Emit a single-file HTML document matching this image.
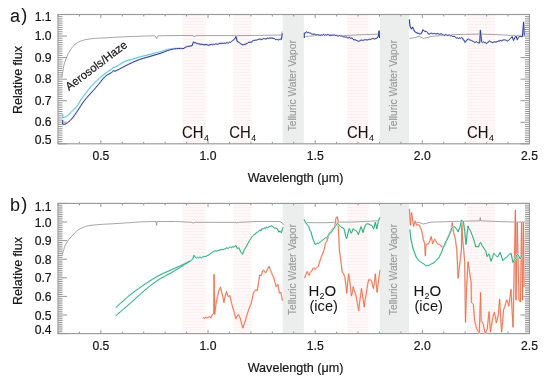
<!DOCTYPE html><html><head><meta charset="utf-8"><style>
html,body{margin:0;padding:0;background:#fff;width:550px;height:381px;overflow:hidden}
svg{display:block;will-change:transform}
text{font-family:"Liberation Sans",sans-serif;fill:#161616;stroke:#161616;stroke-width:0.2}
</style></head><body>
<svg width="550" height="381" viewBox="0 0 550 381">
<defs><pattern id="pink" width="4" height="3" patternUnits="userSpaceOnUse"><rect width="4" height="3" fill="#fff8f8"/><rect width="4" height="1" fill="#fdf0f0"/></pattern></defs>

<rect x="182.5" y="14.5" width="23.0" height="129.3" fill="url(#pink)"/><rect x="233.5" y="14.5" width="18.0" height="129.3" fill="url(#pink)"/><rect x="347.2" y="14.5" width="21.30000000000001" height="129.3" fill="url(#pink)"/><rect x="467.2" y="14.5" width="28.100000000000023" height="129.3" fill="url(#pink)"/><rect x="282.7" y="14.5" width="21.100000000000023" height="129.3" fill="#eceeed"/><rect x="379.8" y="14.5" width="29.19999999999999" height="129.3" fill="#eceeed"/>
<path d="M58.0 143.80h9M529.5 143.80h-9M58.0 141.65h4.5M529.5 141.65h-4.5M58.0 139.49h4.5M529.5 139.49h-4.5M58.0 137.34h4.5M529.5 137.34h-4.5M58.0 135.18h4.5M529.5 135.18h-4.5M58.0 133.03h4.5M529.5 133.03h-4.5M58.0 130.87h4.5M529.5 130.87h-4.5M58.0 128.72h4.5M529.5 128.72h-4.5M58.0 126.56h4.5M529.5 126.56h-4.5M58.0 124.41h4.5M529.5 124.41h-4.5M58.0 122.25h9M529.5 122.25h-9M58.0 120.10h4.5M529.5 120.10h-4.5M58.0 117.94h4.5M529.5 117.94h-4.5M58.0 115.79h4.5M529.5 115.79h-4.5M58.0 113.63h4.5M529.5 113.63h-4.5M58.0 111.48h4.5M529.5 111.48h-4.5M58.0 109.32h4.5M529.5 109.32h-4.5M58.0 107.17h4.5M529.5 107.17h-4.5M58.0 105.01h4.5M529.5 105.01h-4.5M58.0 102.86h4.5M529.5 102.86h-4.5M58.0 100.70h9M529.5 100.70h-9M58.0 98.55h4.5M529.5 98.55h-4.5M58.0 96.39h4.5M529.5 96.39h-4.5M58.0 94.24h4.5M529.5 94.24h-4.5M58.0 92.08h4.5M529.5 92.08h-4.5M58.0 89.93h4.5M529.5 89.93h-4.5M58.0 87.77h4.5M529.5 87.77h-4.5M58.0 85.62h4.5M529.5 85.62h-4.5M58.0 83.46h4.5M529.5 83.46h-4.5M58.0 81.31h4.5M529.5 81.31h-4.5M58.0 79.15h9M529.5 79.15h-9M58.0 77.00h4.5M529.5 77.00h-4.5M58.0 74.84h4.5M529.5 74.84h-4.5M58.0 72.69h4.5M529.5 72.69h-4.5M58.0 70.53h4.5M529.5 70.53h-4.5M58.0 68.38h4.5M529.5 68.38h-4.5M58.0 66.22h4.5M529.5 66.22h-4.5M58.0 64.07h4.5M529.5 64.07h-4.5M58.0 61.91h4.5M529.5 61.91h-4.5M58.0 59.76h4.5M529.5 59.76h-4.5M58.0 57.60h9M529.5 57.60h-9M58.0 55.45h4.5M529.5 55.45h-4.5M58.0 53.29h4.5M529.5 53.29h-4.5M58.0 51.14h4.5M529.5 51.14h-4.5M58.0 48.98h4.5M529.5 48.98h-4.5M58.0 46.83h4.5M529.5 46.83h-4.5M58.0 44.67h4.5M529.5 44.67h-4.5M58.0 42.52h4.5M529.5 42.52h-4.5M58.0 40.36h4.5M529.5 40.36h-4.5M58.0 38.21h4.5M529.5 38.21h-4.5M58.0 36.05h9M529.5 36.05h-9M58.0 33.90h4.5M529.5 33.90h-4.5M58.0 31.74h4.5M529.5 31.74h-4.5M58.0 29.59h4.5M529.5 29.59h-4.5M58.0 27.43h4.5M529.5 27.43h-4.5M58.0 25.28h4.5M529.5 25.28h-4.5M58.0 23.12h4.5M529.5 23.12h-4.5M58.0 20.97h4.5M529.5 20.97h-4.5M58.0 18.81h4.5M529.5 18.81h-4.5M58.0 16.66h4.5M529.5 16.66h-4.5M58.0 14.50h9M529.5 14.50h-9M58.00 143.8v-2M58.00 14.5v2M79.43 143.8v-2M79.43 14.5v2M100.86 143.8v-3.5M100.86 14.5v3.5M122.30 143.8v-2M122.30 14.5v2M143.73 143.8v-2M143.73 14.5v2M165.16 143.8v-2M165.16 14.5v2M186.59 143.8v-2M186.59 14.5v2M208.02 143.8v-3.5M208.02 14.5v3.5M229.45 143.8v-2M229.45 14.5v2M250.89 143.8v-2M250.89 14.5v2M272.32 143.8v-2M272.32 14.5v2M293.75 143.8v-2M293.75 14.5v2M315.18 143.8v-3.5M315.18 14.5v3.5M336.61 143.8v-2M336.61 14.5v2M358.05 143.8v-2M358.05 14.5v2M379.48 143.8v-2M379.48 14.5v2M400.91 143.8v-2M400.91 14.5v2M422.34 143.8v-3.5M422.34 14.5v3.5M443.77 143.8v-2M443.77 14.5v2M465.20 143.8v-2M465.20 14.5v2M486.64 143.8v-2M486.64 14.5v2M508.07 143.8v-2M508.07 14.5v2M529.50 143.8v-3.5M529.50 14.5v3.5" stroke="#7a7a7a" stroke-width="0.8" fill="none"/><rect x="58.0" y="14.5" width="471.5" height="129.3" fill="none" stroke="#9a9a9a" stroke-width="1.15"/>
<rect x="182.5" y="203.4" width="23.0" height="130.20000000000002" fill="url(#pink)"/><rect x="233.5" y="203.4" width="18.0" height="130.20000000000002" fill="url(#pink)"/><rect x="347.2" y="203.4" width="21.30000000000001" height="130.20000000000002" fill="url(#pink)"/><rect x="467.2" y="203.4" width="28.100000000000023" height="130.20000000000002" fill="url(#pink)"/><rect x="282.7" y="203.4" width="21.100000000000023" height="130.20000000000002" fill="#eceeed"/><rect x="379.8" y="203.4" width="29.19999999999999" height="130.20000000000002" fill="#eceeed"/>
<path d="M58.0 333.60h9M529.5 333.60h-9M58.0 331.74h4.5M529.5 331.74h-4.5M58.0 329.88h4.5M529.5 329.88h-4.5M58.0 328.02h4.5M529.5 328.02h-4.5M58.0 326.16h4.5M529.5 326.16h-4.5M58.0 324.30h4.5M529.5 324.30h-4.5M58.0 322.44h4.5M529.5 322.44h-4.5M58.0 320.58h4.5M529.5 320.58h-4.5M58.0 318.72h4.5M529.5 318.72h-4.5M58.0 316.86h4.5M529.5 316.86h-4.5M58.0 315.00h9M529.5 315.00h-9M58.0 313.14h4.5M529.5 313.14h-4.5M58.0 311.28h4.5M529.5 311.28h-4.5M58.0 309.42h4.5M529.5 309.42h-4.5M58.0 307.56h4.5M529.5 307.56h-4.5M58.0 305.70h4.5M529.5 305.70h-4.5M58.0 303.84h4.5M529.5 303.84h-4.5M58.0 301.98h4.5M529.5 301.98h-4.5M58.0 300.12h4.5M529.5 300.12h-4.5M58.0 298.26h4.5M529.5 298.26h-4.5M58.0 296.40h9M529.5 296.40h-9M58.0 294.54h4.5M529.5 294.54h-4.5M58.0 292.68h4.5M529.5 292.68h-4.5M58.0 290.82h4.5M529.5 290.82h-4.5M58.0 288.96h4.5M529.5 288.96h-4.5M58.0 287.10h4.5M529.5 287.10h-4.5M58.0 285.24h4.5M529.5 285.24h-4.5M58.0 283.38h4.5M529.5 283.38h-4.5M58.0 281.52h4.5M529.5 281.52h-4.5M58.0 279.66h4.5M529.5 279.66h-4.5M58.0 277.80h9M529.5 277.80h-9M58.0 275.94h4.5M529.5 275.94h-4.5M58.0 274.08h4.5M529.5 274.08h-4.5M58.0 272.22h4.5M529.5 272.22h-4.5M58.0 270.36h4.5M529.5 270.36h-4.5M58.0 268.50h4.5M529.5 268.50h-4.5M58.0 266.64h4.5M529.5 266.64h-4.5M58.0 264.78h4.5M529.5 264.78h-4.5M58.0 262.92h4.5M529.5 262.92h-4.5M58.0 261.06h4.5M529.5 261.06h-4.5M58.0 259.20h9M529.5 259.20h-9M58.0 257.34h4.5M529.5 257.34h-4.5M58.0 255.48h4.5M529.5 255.48h-4.5M58.0 253.62h4.5M529.5 253.62h-4.5M58.0 251.76h4.5M529.5 251.76h-4.5M58.0 249.90h4.5M529.5 249.90h-4.5M58.0 248.04h4.5M529.5 248.04h-4.5M58.0 246.18h4.5M529.5 246.18h-4.5M58.0 244.32h4.5M529.5 244.32h-4.5M58.0 242.46h4.5M529.5 242.46h-4.5M58.0 240.60h9M529.5 240.60h-9M58.0 238.74h4.5M529.5 238.74h-4.5M58.0 236.88h4.5M529.5 236.88h-4.5M58.0 235.02h4.5M529.5 235.02h-4.5M58.0 233.16h4.5M529.5 233.16h-4.5M58.0 231.30h4.5M529.5 231.30h-4.5M58.0 229.44h4.5M529.5 229.44h-4.5M58.0 227.58h4.5M529.5 227.58h-4.5M58.0 225.72h4.5M529.5 225.72h-4.5M58.0 223.86h4.5M529.5 223.86h-4.5M58.0 222.00h9M529.5 222.00h-9M58.0 220.14h4.5M529.5 220.14h-4.5M58.0 218.28h4.5M529.5 218.28h-4.5M58.0 216.42h4.5M529.5 216.42h-4.5M58.0 214.56h4.5M529.5 214.56h-4.5M58.0 212.70h4.5M529.5 212.70h-4.5M58.0 210.84h4.5M529.5 210.84h-4.5M58.0 208.98h4.5M529.5 208.98h-4.5M58.0 207.12h4.5M529.5 207.12h-4.5M58.0 205.26h4.5M529.5 205.26h-4.5M58.0 203.40h9M529.5 203.40h-9M58.00 333.6v-2M58.00 203.4v2M79.43 333.6v-2M79.43 203.4v2M100.86 333.6v-3.5M100.86 203.4v3.5M122.30 333.6v-2M122.30 203.4v2M143.73 333.6v-2M143.73 203.4v2M165.16 333.6v-2M165.16 203.4v2M186.59 333.6v-2M186.59 203.4v2M208.02 333.6v-3.5M208.02 203.4v3.5M229.45 333.6v-2M229.45 203.4v2M250.89 333.6v-2M250.89 203.4v2M272.32 333.6v-2M272.32 203.4v2M293.75 333.6v-2M293.75 203.4v2M315.18 333.6v-3.5M315.18 203.4v3.5M336.61 333.6v-2M336.61 203.4v2M358.05 333.6v-2M358.05 203.4v2M379.48 333.6v-2M379.48 203.4v2M400.91 333.6v-2M400.91 203.4v2M422.34 333.6v-3.5M422.34 203.4v3.5M443.77 333.6v-2M443.77 203.4v2M465.20 333.6v-2M465.20 203.4v2M486.64 333.6v-2M486.64 203.4v2M508.07 333.6v-2M508.07 203.4v2M529.50 333.6v-3.5M529.50 203.4v3.5" stroke="#7a7a7a" stroke-width="0.8" fill="none"/><rect x="58.0" y="203.4" width="471.5" height="130.20000000000002" fill="none" stroke="#9a9a9a" stroke-width="1.15"/>
<text x="51.6" y="21.2" text-anchor="end" font-size="12.2">1.1</text><text x="51.6" y="40.2" text-anchor="end" font-size="12.2">1.0</text><text x="51.6" y="61.7" text-anchor="end" font-size="12.2">0.9</text><text x="51.6" y="83.3" text-anchor="end" font-size="12.2">0.8</text><text x="51.6" y="104.8" text-anchor="end" font-size="12.2">0.7</text><text x="51.6" y="126.4" text-anchor="end" font-size="12.2">0.6</text><text x="51.6" y="143.9" text-anchor="end" font-size="12.2">0.5</text><text x="51.6" y="211.3" text-anchor="end" font-size="12.2">1.1</text><text x="51.6" y="226.6" text-anchor="end" font-size="12.2">1.0</text><text x="51.6" y="245.2" text-anchor="end" font-size="12.2">0.9</text><text x="51.6" y="263.8" text-anchor="end" font-size="12.2">0.8</text><text x="51.6" y="282.4" text-anchor="end" font-size="12.2">0.7</text><text x="51.6" y="301.0" text-anchor="end" font-size="12.2">0.6</text><text x="51.6" y="319.6" text-anchor="end" font-size="12.2">0.5</text><text x="51.6" y="333.7" text-anchor="end" font-size="12.2">0.4</text><text x="100.9" y="160" text-anchor="middle" font-size="12.2">0.5</text><text x="100.9" y="349.5" text-anchor="middle" font-size="12.2">0.5</text><text x="208.0" y="160" text-anchor="middle" font-size="12.2">1.0</text><text x="208.0" y="349.5" text-anchor="middle" font-size="12.2">1.0</text><text x="315.2" y="160" text-anchor="middle" font-size="12.2">1.5</text><text x="315.2" y="349.5" text-anchor="middle" font-size="12.2">1.5</text><text x="422.3" y="160" text-anchor="middle" font-size="12.2">2.0</text><text x="422.3" y="349.5" text-anchor="middle" font-size="12.2">2.0</text><text x="529.5" y="160" text-anchor="middle" font-size="12.2">2.5</text><text x="529.5" y="349.5" text-anchor="middle" font-size="12.2">2.5</text>
<text x="295.5" y="182" text-anchor="middle" font-size="12.6">Wavelength (μm)</text>
<text x="295.5" y="371.8" text-anchor="middle" font-size="12.6">Wavelength (μm)</text>
<text transform="translate(22,80) rotate(-90)" text-anchor="middle" font-size="12.5">Relative flux</text>
<text transform="translate(22,271) rotate(-90)" text-anchor="middle" font-size="12.5">Relative flux</text>
<text x="10" y="22" font-size="18" style="stroke-width:0.05">a<tspan dx="1.3" dy="-0.8">)</tspan></text>
<text x="10" y="211" font-size="18" style="stroke-width:0.05">b<tspan dx="1.3" dy="-0.8">)</tspan></text>
<text transform="translate(296.3,85.7) rotate(-90)" text-anchor="middle" font-size="10.25" style="fill:#9a9a9a;stroke:#9a9a9a;stroke-width:0.15">Telluric Water Vapor</text>
<text transform="translate(396.6,85.7) rotate(-90)" text-anchor="middle" font-size="10.25" style="fill:#9a9a9a;stroke:#9a9a9a;stroke-width:0.15">Telluric Water Vapor</text>
<text transform="translate(296.3,269.6) rotate(-90)" text-anchor="middle" font-size="10.25" style="fill:#9a9a9a;stroke:#9a9a9a;stroke-width:0.15">Telluric Water Vapor</text>
<text transform="translate(396.6,269.6) rotate(-90)" text-anchor="middle" font-size="10.25" style="fill:#9a9a9a;stroke:#9a9a9a;stroke-width:0.15">Telluric Water Vapor</text>
<text transform="translate(182.0,138.4) scale(0.99,1.05)" font-size="15" style="stroke-width:0.08">CH<tspan font-size="8.8" dy="2.6" dx="0.6">4</tspan></text>
<text transform="translate(229.2,138.4) scale(0.99,1.05)" font-size="15" style="stroke-width:0.08">CH<tspan font-size="8.8" dy="2.6" dx="0.6">4</tspan></text>
<text transform="translate(347.0,138.4) scale(0.99,1.05)" font-size="15" style="stroke-width:0.08">CH<tspan font-size="8.8" dy="2.6" dx="0.6">4</tspan></text>
<text transform="translate(467.0,138.4) scale(0.99,1.05)" font-size="15" style="stroke-width:0.08">CH<tspan font-size="8.8" dy="2.6" dx="0.6">4</tspan></text>
<text transform="translate(69.0,90.9) rotate(-37) " font-size="11.4">Aerosols/Haze</text>
<text x="308.6" y="296.2" font-size="15" style="stroke-width:0.05">H<tspan font-size="9" dy="2.6">2</tspan><tspan dy="-2.6">O</tspan></text>
<text x="309.5" y="311.3" font-size="14.6" style="stroke-width:0.05">(ice)</text>
<text x="413.6" y="296.2" font-size="15" style="stroke-width:0.05">H<tspan font-size="9" dy="2.6">2</tspan><tspan dy="-2.6">O</tspan></text>
<text x="414.5" y="311.3" font-size="14.6" style="stroke-width:0.05">(ice)</text>
<path d="M62.00,77.00C62.32,75.07 63.15,68.63 63.90,65.40C64.65,62.17 65.42,60.22 66.50,57.60C67.58,54.98 68.87,52.00 70.40,49.70C71.93,47.40 73.73,45.33 75.70,43.80C77.67,42.27 79.80,41.32 82.20,40.50C84.60,39.68 87.25,39.30 90.10,38.90C92.95,38.50 96.65,38.27 99.30,38.10C101.95,37.93 102.55,38.08 106.00,37.90C109.45,37.72 114.33,37.28 120.00,37.00C125.67,36.72 134.17,36.40 140.00,36.20C145.83,36.00 152.50,35.87 155.00,35.80M155.0,35.8 156.7,38.6 158.0,35.8 180.0,35.5 193.0,35.5 194.0,37.0 196.0,35.6 236.0,35.6 260.0,35.4 281.7,35.0 282.0,31.5M304.0,36.8 315.5,35.5 330.9,35.1 346.4,35.5 361.8,34.7 377.3,34.2 379.5,34.0M409.4,38.5 415.9,37.4 419.2,36.3 423.5,38.5 432.3,36.3 443.2,35.5 454.1,34.6 465.0,34.4 480.0,34.1 480.4,29.6 480.8,34.1 498.2,34.7 510.9,35.4 521.1,35.4 524.0,35.4" stroke="#8e8e8e" stroke-width="0.8" fill="none" stroke-linejoin="round" stroke-opacity="1"/>
<path d="M62.7,113.8 62.7,117.7M62.70,117.70C63.28,117.50 64.70,117.48 66.20,116.50C67.70,115.52 69.73,113.77 71.70,111.80C73.67,109.83 76.42,106.77 78.00,104.70C79.58,102.63 79.03,102.42 81.20,99.40C83.37,96.38 87.62,90.43 91.00,86.60C94.38,82.77 98.33,79.13 101.50,76.40C104.67,73.67 108.17,71.52 110.00,70.20C111.83,68.88 112.08,68.78 112.50,68.50M112.5,68.5 113.6,67.0 115.0,67.5M115.00,67.50C116.67,66.48 122.12,62.78 125.00,61.40C127.88,60.02 129.88,59.93 132.30,59.20C134.72,58.47 137.08,57.67 139.50,57.00C141.92,56.33 144.37,55.80 146.80,55.20C149.23,54.60 151.67,54.02 154.10,53.40C156.53,52.78 159.20,52.15 161.40,51.50C163.60,50.85 165.12,50.00 167.30,49.50C169.48,49.00 172.08,48.72 174.50,48.50C176.92,48.28 180.58,48.25 181.80,48.20" stroke="#cdf1f8" stroke-width="2.0" fill="none" stroke-linejoin="round" stroke-opacity="1"/>
<path d="M62.7,113.8 62.7,117.7M62.70,117.70C63.28,117.50 64.70,117.48 66.20,116.50C67.70,115.52 69.73,113.77 71.70,111.80C73.67,109.83 76.42,106.77 78.00,104.70C79.58,102.63 79.03,102.42 81.20,99.40C83.37,96.38 87.62,90.43 91.00,86.60C94.38,82.77 98.33,79.13 101.50,76.40C104.67,73.67 108.17,71.52 110.00,70.20C111.83,68.88 112.08,68.78 112.50,68.50M112.5,68.5 113.6,67.0 115.0,67.5M115.00,67.50C116.67,66.48 122.12,62.78 125.00,61.40C127.88,60.02 129.88,59.93 132.30,59.20C134.72,58.47 137.08,57.67 139.50,57.00C141.92,56.33 144.37,55.80 146.80,55.20C149.23,54.60 151.67,54.02 154.10,53.40C156.53,52.78 159.20,52.15 161.40,51.50C163.60,50.85 165.12,50.00 167.30,49.50C169.48,49.00 172.08,48.72 174.50,48.50C176.92,48.28 180.58,48.25 181.80,48.20" stroke="#3fb2c9" stroke-width="0.75" fill="none" stroke-linejoin="round" stroke-opacity="1"/>
<path d="M62.7,120.0 62.7,124.4M62.70,124.40C63.28,124.27 64.70,124.52 66.20,123.60C67.70,122.68 69.73,121.15 71.70,118.90C73.67,116.65 75.85,113.20 78.00,110.10C80.15,107.00 81.57,104.12 84.60,100.30C87.63,96.48 92.87,91.08 96.20,87.20C99.53,83.32 102.30,79.28 104.60,77.00C106.90,74.72 108.68,74.37 110.00,73.50C111.32,72.63 112.08,72.08 112.50,71.80M112.5,71.8 113.6,70.5 115.0,71.3M115.00,71.30C116.67,70.43 122.12,67.57 125.00,66.10C127.88,64.63 129.88,63.60 132.30,62.50C134.72,61.40 137.08,60.35 139.50,59.50C141.92,58.65 144.37,58.12 146.80,57.40C149.23,56.68 151.67,55.93 154.10,55.20C156.53,54.47 159.20,53.77 161.40,53.00C163.60,52.23 165.12,51.30 167.30,50.60C169.48,49.90 172.08,49.15 174.50,48.80C176.92,48.45 180.58,48.55 181.80,48.50M181.8,48.5 182.9,48.6 184.0,48.3 185.1,47.4 186.2,47.0 187.2,46.5 188.1,46.2 189.1,46.3 190.1,46.2 191.0,45.7 192.0,45.9 193.5,41.9 194.9,43.0 195.9,42.7 196.8,43.5 197.8,43.7 198.9,43.9 200.0,44.1 201.0,44.5 202.0,44.1 203.0,44.6 204.0,44.7 205.0,44.9 206.0,44.3 207.0,45.0 207.9,44.9 208.9,45.5 209.9,44.7 210.9,44.6 211.8,44.4 212.7,44.8 213.6,44.3 214.5,44.5 215.4,43.9 216.4,44.0 217.3,44.2 218.2,44.0 219.1,43.7 220.0,43.1 220.9,43.6 221.8,43.3 222.8,43.2 223.7,43.4 224.7,43.1 225.7,43.3 226.6,42.8 227.6,42.8 228.6,42.9 229.5,42.2 230.5,42.5 231.6,41.4 232.7,40.5 233.8,39.7 234.9,38.8 236.0,36.5 237.1,41.4 238.2,41.9 239.2,42.5 240.2,43.4 241.1,44.1 242.1,44.4 243.1,45.2 244.1,44.2 245.1,44.6 246.1,43.7 247.1,43.7 248.1,42.5 249.1,42.5 250.0,42.0 250.9,42.3 251.8,42.0 252.7,40.7 253.6,40.4 254.5,40.5 255.4,40.2 256.4,40.2 257.3,39.7 258.2,39.4 259.1,39.4 260.0,38.9 260.9,39.4 261.9,39.5 262.8,38.9 263.7,38.5 264.6,38.7 265.5,38.9 266.4,39.0 267.3,38.0 268.2,38.5 269.1,38.0 270.0,38.2 270.9,38.0 271.8,38.0 273.1,38.3 274.5,38.5 275.4,39.5 276.4,39.4 277.4,39.5 278.4,39.9 279.4,39.4 280.4,39.2 281.4,39.4 282.3,33.5M304.3,38.0 304.3,33.1 305.4,33.1 306.4,31.8 307.4,32.6 308.5,32.4 309.5,32.9 310.4,32.9 311.4,33.9 312.4,34.2 313.4,34.3 314.5,33.9 315.5,35.1 316.4,35.0 317.3,34.7 318.2,34.9 319.1,35.0 320.0,35.5 320.9,35.1 321.8,35.0 322.7,35.2 323.7,34.4 324.6,35.5 325.5,34.7 326.4,35.2 327.3,34.6 328.2,34.7 329.1,34.9 330.0,35.7 330.9,35.0 331.9,35.4 332.8,35.0 333.8,35.2 334.8,35.0 335.7,35.6 336.7,35.5 337.6,36.0 338.6,35.9 339.6,35.6 340.6,36.1 341.5,36.0 342.5,36.2 343.5,36.8 344.4,36.8 345.4,37.1 346.4,37.0 347.3,37.7 348.2,37.9 349.2,37.2 350.1,38.1 351.0,38.2 352.0,38.0 352.9,39.0 353.9,40.0 354.9,39.7 355.8,40.0 356.8,40.6 357.7,40.9 358.7,41.3 359.7,40.9 360.8,40.2 361.8,40.1 362.8,40.4 363.8,40.2 364.7,39.7 365.7,39.8 366.7,39.8 367.7,39.9 368.6,39.5 369.6,39.3 370.6,39.4 371.6,38.9 372.6,38.5 373.7,38.6 374.7,39.0 375.7,38.5 376.9,38.1 378.1,37.0 379.1,30.8 379.5,38.0M409.4,19.4 409.9,25.9 411.5,29.2 412.6,27.0 413.7,29.5 414.8,31.9 415.9,32.3 417.0,33.0 418.1,33.2 419.2,33.8 420.3,33.8 421.4,33.5 423.0,29.7 424.6,31.4 426.3,31.4 427.4,32.5 428.5,34.1 429.5,34.0 430.5,33.4 431.4,33.3 432.4,33.7 433.4,33.5 434.5,33.5 435.5,33.8 436.6,33.9 437.7,33.5 438.6,34.0 439.5,34.3 440.4,33.9 441.4,33.8 442.3,34.6 443.2,34.6 444.1,35.6 445.0,34.9 445.9,34.5 446.8,35.1 447.7,35.6 448.6,35.2 449.5,35.0 450.4,35.8 451.4,35.5 452.3,36.4 453.2,36.4 454.1,36.3 455.2,37.0 456.3,38.1 457.4,37.8 458.5,38.5 459.6,37.9 460.6,38.4 461.7,37.4 462.6,38.2 463.6,40.3 464.5,40.6 465.1,42.4 466.4,40.8 467.6,39.2 468.6,39.2 469.6,39.8 470.5,40.2 471.5,40.5 472.4,41.0 473.4,41.4 474.4,42.3 475.3,42.4 476.4,41.7 477.5,42.5 478.6,42.8 479.7,43.0 480.4,30.3 481.6,41.7 482.6,42.7 483.6,41.8 484.7,42.7 485.7,42.8 486.7,43.6 488.0,42.1 489.3,41.1 490.2,41.6 491.2,41.9 492.2,42.6 493.1,42.4 494.1,41.9 495.1,42.0 496.2,42.0 497.2,41.7 498.2,41.1 499.1,40.8 500.0,41.1 500.9,40.2 501.8,41.0 502.7,40.2 503.6,39.9 504.5,39.8 505.5,40.1 506.4,40.4 507.4,40.9 508.4,40.5 509.4,39.5 510.3,38.4 511.2,37.8 512.2,36.6 513.5,40.5 514.8,37.9 516.0,36.0 517.3,39.8 518.5,37.3 519.8,36.0 521.1,36.6 522.4,36.6 523.6,22.0 524.3,35.4" stroke="#dcdaf0" stroke-width="2.0" fill="none" stroke-linejoin="round" stroke-opacity="1"/>
<path d="M62.7,120.0 62.7,124.4M62.70,124.40C63.28,124.27 64.70,124.52 66.20,123.60C67.70,122.68 69.73,121.15 71.70,118.90C73.67,116.65 75.85,113.20 78.00,110.10C80.15,107.00 81.57,104.12 84.60,100.30C87.63,96.48 92.87,91.08 96.20,87.20C99.53,83.32 102.30,79.28 104.60,77.00C106.90,74.72 108.68,74.37 110.00,73.50C111.32,72.63 112.08,72.08 112.50,71.80M112.5,71.8 113.6,70.5 115.0,71.3M115.00,71.30C116.67,70.43 122.12,67.57 125.00,66.10C127.88,64.63 129.88,63.60 132.30,62.50C134.72,61.40 137.08,60.35 139.50,59.50C141.92,58.65 144.37,58.12 146.80,57.40C149.23,56.68 151.67,55.93 154.10,55.20C156.53,54.47 159.20,53.77 161.40,53.00C163.60,52.23 165.12,51.30 167.30,50.60C169.48,49.90 172.08,49.15 174.50,48.80C176.92,48.45 180.58,48.55 181.80,48.50M181.8,48.5 182.9,48.6 184.0,48.3 185.1,47.4 186.2,47.0 187.2,46.5 188.1,46.2 189.1,46.3 190.1,46.2 191.0,45.7 192.0,45.9 193.5,41.9 194.9,43.0 195.9,42.7 196.8,43.5 197.8,43.7 198.9,43.9 200.0,44.1 201.0,44.5 202.0,44.1 203.0,44.6 204.0,44.7 205.0,44.9 206.0,44.3 207.0,45.0 207.9,44.9 208.9,45.5 209.9,44.7 210.9,44.6 211.8,44.4 212.7,44.8 213.6,44.3 214.5,44.5 215.4,43.9 216.4,44.0 217.3,44.2 218.2,44.0 219.1,43.7 220.0,43.1 220.9,43.6 221.8,43.3 222.8,43.2 223.7,43.4 224.7,43.1 225.7,43.3 226.6,42.8 227.6,42.8 228.6,42.9 229.5,42.2 230.5,42.5 231.6,41.4 232.7,40.5 233.8,39.7 234.9,38.8 236.0,36.5 237.1,41.4 238.2,41.9 239.2,42.5 240.2,43.4 241.1,44.1 242.1,44.4 243.1,45.2 244.1,44.2 245.1,44.6 246.1,43.7 247.1,43.7 248.1,42.5 249.1,42.5 250.0,42.0 250.9,42.3 251.8,42.0 252.7,40.7 253.6,40.4 254.5,40.5 255.4,40.2 256.4,40.2 257.3,39.7 258.2,39.4 259.1,39.4 260.0,38.9 260.9,39.4 261.9,39.5 262.8,38.9 263.7,38.5 264.6,38.7 265.5,38.9 266.4,39.0 267.3,38.0 268.2,38.5 269.1,38.0 270.0,38.2 270.9,38.0 271.8,38.0 273.1,38.3 274.5,38.5 275.4,39.5 276.4,39.4 277.4,39.5 278.4,39.9 279.4,39.4 280.4,39.2 281.4,39.4 282.3,33.5M304.3,38.0 304.3,33.1 305.4,33.1 306.4,31.8 307.4,32.6 308.5,32.4 309.5,32.9 310.4,32.9 311.4,33.9 312.4,34.2 313.4,34.3 314.5,33.9 315.5,35.1 316.4,35.0 317.3,34.7 318.2,34.9 319.1,35.0 320.0,35.5 320.9,35.1 321.8,35.0 322.7,35.2 323.7,34.4 324.6,35.5 325.5,34.7 326.4,35.2 327.3,34.6 328.2,34.7 329.1,34.9 330.0,35.7 330.9,35.0 331.9,35.4 332.8,35.0 333.8,35.2 334.8,35.0 335.7,35.6 336.7,35.5 337.6,36.0 338.6,35.9 339.6,35.6 340.6,36.1 341.5,36.0 342.5,36.2 343.5,36.8 344.4,36.8 345.4,37.1 346.4,37.0 347.3,37.7 348.2,37.9 349.2,37.2 350.1,38.1 351.0,38.2 352.0,38.0 352.9,39.0 353.9,40.0 354.9,39.7 355.8,40.0 356.8,40.6 357.7,40.9 358.7,41.3 359.7,40.9 360.8,40.2 361.8,40.1 362.8,40.4 363.8,40.2 364.7,39.7 365.7,39.8 366.7,39.8 367.7,39.9 368.6,39.5 369.6,39.3 370.6,39.4 371.6,38.9 372.6,38.5 373.7,38.6 374.7,39.0 375.7,38.5 376.9,38.1 378.1,37.0 379.1,30.8 379.5,38.0M409.4,19.4 409.9,25.9 411.5,29.2 412.6,27.0 413.7,29.5 414.8,31.9 415.9,32.3 417.0,33.0 418.1,33.2 419.2,33.8 420.3,33.8 421.4,33.5 423.0,29.7 424.6,31.4 426.3,31.4 427.4,32.5 428.5,34.1 429.5,34.0 430.5,33.4 431.4,33.3 432.4,33.7 433.4,33.5 434.5,33.5 435.5,33.8 436.6,33.9 437.7,33.5 438.6,34.0 439.5,34.3 440.4,33.9 441.4,33.8 442.3,34.6 443.2,34.6 444.1,35.6 445.0,34.9 445.9,34.5 446.8,35.1 447.7,35.6 448.6,35.2 449.5,35.0 450.4,35.8 451.4,35.5 452.3,36.4 453.2,36.4 454.1,36.3 455.2,37.0 456.3,38.1 457.4,37.8 458.5,38.5 459.6,37.9 460.6,38.4 461.7,37.4 462.6,38.2 463.6,40.3 464.5,40.6 465.1,42.4 466.4,40.8 467.6,39.2 468.6,39.2 469.6,39.8 470.5,40.2 471.5,40.5 472.4,41.0 473.4,41.4 474.4,42.3 475.3,42.4 476.4,41.7 477.5,42.5 478.6,42.8 479.7,43.0 480.4,30.3 481.6,41.7 482.6,42.7 483.6,41.8 484.7,42.7 485.7,42.8 486.7,43.6 488.0,42.1 489.3,41.1 490.2,41.6 491.2,41.9 492.2,42.6 493.1,42.4 494.1,41.9 495.1,42.0 496.2,42.0 497.2,41.7 498.2,41.1 499.1,40.8 500.0,41.1 500.9,40.2 501.8,41.0 502.7,40.2 503.6,39.9 504.5,39.8 505.5,40.1 506.4,40.4 507.4,40.9 508.4,40.5 509.4,39.5 510.3,38.4 511.2,37.8 512.2,36.6 513.5,40.5 514.8,37.9 516.0,36.0 517.3,39.8 518.5,37.3 519.8,36.0 521.1,36.6 522.4,36.6 523.6,22.0 524.3,35.4" stroke="#283f86" stroke-width="1.0" fill="none" stroke-linejoin="round" stroke-opacity="1"/>
<path d="M62.30,255.00C62.65,253.77 63.53,249.88 64.40,247.60C65.27,245.32 66.10,243.40 67.50,241.30C68.90,239.20 71.08,236.87 72.80,235.00C74.52,233.13 76.05,231.37 77.80,230.10C79.55,228.83 81.48,228.13 83.30,227.40C85.12,226.67 85.98,226.18 88.70,225.70C91.42,225.22 95.97,224.80 99.60,224.50C103.23,224.20 106.03,224.17 110.50,223.90C114.97,223.63 121.03,223.25 126.40,222.90C131.77,222.55 137.77,222.03 142.70,221.80C147.63,221.57 153.78,221.55 156.00,221.50M156.0,221.5 156.6,225.5 157.2,221.5 175.5,221.5 191.8,222.3 193.5,223.1 195.0,222.2 208.2,222.3 236.0,222.4 236.6,223.3 237.2,222.4 260.0,221.4 280.0,221.6 282.6,223.2 283.6,224.9M304.5,222.6 313.1,222.7 326.2,222.7 339.4,222.1 350.0,222.1 379.4,220.7M410.2,224.7 418.1,222.1 423.4,224.0 431.2,222.1 444.4,221.8 455.0,221.4 480.0,220.8 480.2,217.5 480.6,220.8 495.0,221.4 513.9,222.0 524.0,222.0" stroke="#8e8e8e" stroke-width="0.8" fill="none" stroke-linejoin="round" stroke-opacity="1"/>
<path d="M203.4,317.0 204.5,318.7 205.7,317.2 206.8,317.9 208.1,317.4 209.4,316.5 211.1,317.9 212.3,314.5 213.7,313.6 214.0,274.4 214.7,314.5 216.2,302.5 217.5,296.6 218.8,290.6 220.5,287.2 221.8,292.8 223.0,297.4 223.9,302.5 225.2,296.2 226.5,291.5 228.2,296.6 229.9,295.7 231.6,303.4 233.3,309.4 234.6,313.9 235.8,318.8 237.1,316.2 238.4,314.5 240.1,317.9 241.8,324.7 243.0,328.1 244.1,324.1 245.2,321.3 246.1,317.7 247.0,314.8 247.9,312.0 248.9,309.2 250.0,306.2 251.0,304.1 252.2,298.9 253.4,293.1 254.6,291.2 255.7,289.9 257.3,290.7 258.9,280.5 259.7,275.0 261.3,275.7 262.5,271.0 263.6,270.2 264.8,272.1 266.0,272.6 267.0,270.3 268.1,268.0 269.1,266.3 270.3,269.6 271.5,272.6 272.7,275.5 273.9,278.1 275.0,282.5 276.2,286.8 277.8,284.4 279.4,293.1 280.9,292.3 282.5,300.9M304.6,278.1 305.9,274.3 307.2,271.5 308.2,273.6 309.2,275.4 310.1,272.5 311.1,271.5 312.1,270.7 313.1,268.2 314.1,268.1 315.1,269.5 316.2,268.3 317.2,267.3 318.3,266.2 319.3,263.1 320.3,259.7 321.3,256.9 322.3,254.4 323.2,252.1 324.2,249.2 325.5,243.1 326.9,241.3 327.9,238.1 328.9,235.2 330.2,232.7 331.5,230.6 332.6,228.7 333.7,228.4 334.8,226.0 336.1,217.5 337.4,216.8 338.1,221.4 339.4,250.0 340.3,256.7 341.3,264.6 342.2,272.1 343.5,273.5 344.9,277.6 345.9,285.5 346.8,293.2 347.7,282.5 348.6,273.9 349.5,278.5 350.4,286.2 351.4,296.0 352.3,292.7 353.2,286.8 354.1,290.2 355.1,292.8 356.0,296.0 357.4,303.4 358.7,310.7 359.6,302.4 360.6,295.3 361.5,288.6 362.9,298.0 364.2,307.0 365.1,299.5 366.1,294.8 367.0,288.6 367.9,282.9 368.8,279.4 369.7,280.0 370.7,279.8 371.6,281.2 373.4,288.6 374.4,282.2 375.3,273.9 376.2,283.6 377.1,292.3 378.1,284.5 379.0,276.3 380.0,270.2M409.4,208.9 410.4,225.2 411.5,212.6 412.5,218.9 413.6,226.3 415.2,221.0 416.7,225.2 418.0,224.7 419.4,225.3 420.4,227.5 421.4,229.9 422.4,234.2 423.4,239.8 424.7,243.7 425.3,255.7 426.0,244.4 427.3,244.1 428.6,243.7 429.9,240.6 431.2,236.5 432.6,243.7 433.6,241.3 434.5,239.1 435.5,240.4 436.5,242.4 437.8,243.8 439.1,244.4 440.2,245.0 441.3,246.6 442.4,247.0 443.4,246.1 444.4,245.7 445.4,244.3 446.4,240.9 447.3,238.1 448.3,236.5 449.4,233.8 450.5,230.8 451.6,228.6 452.2,222.7 453.5,232.6 454.5,235.8 455.5,240.4 456.8,250.0 458.1,278.2 459.2,268.6 460.3,259.8 461.4,250.0 461.8,221.0 462.7,240.0 463.7,249.6 464.7,262.0 465.5,322.2 466.5,290.0 468.0,261.8 469.3,269.7 470.2,276.1 471.2,282.8 471.4,302.5 472.4,303.3 473.4,304.4 474.7,321.5 475.7,324.9 476.7,328.7 478.0,331.1 479.3,332.7 480.6,292.6 481.2,321.5 482.2,322.0 483.2,324.2 484.2,329.1 485.2,333.3 486.2,331.1 487.2,329.4 488.1,320.5 489.1,311.7 490.4,332.0 491.3,326.5 492.2,321.2 493.1,316.2 494.4,312.3 495.4,317.2 496.3,322.8 497.3,319.1 498.3,315.0 499.6,299.2 500.6,316.8 501.6,332.0 502.6,321.4 503.6,309.7 504.7,306.9 505.7,303.4 506.8,299.9 507.9,302.7 508.9,306.2 509.9,298.1 511.0,289.4 512.0,309.5 513.1,327.2 514.2,267.8 515.4,210.1 516.0,300.0 517.2,222.0 519.0,300.0 520.5,302.0 521.6,222.0 522.6,300.0 523.5,222.0 524.0,287.0" stroke="#fadcd2" stroke-width="1.9" fill="none" stroke-linejoin="round" stroke-opacity="1"/>
<path d="M203.4,317.0 204.5,318.7 205.7,317.2 206.8,317.9 208.1,317.4 209.4,316.5 211.1,317.9 212.3,314.5 213.7,313.6 214.0,274.4 214.7,314.5 216.2,302.5 217.5,296.6 218.8,290.6 220.5,287.2 221.8,292.8 223.0,297.4 223.9,302.5 225.2,296.2 226.5,291.5 228.2,296.6 229.9,295.7 231.6,303.4 233.3,309.4 234.6,313.9 235.8,318.8 237.1,316.2 238.4,314.5 240.1,317.9 241.8,324.7 243.0,328.1 244.1,324.1 245.2,321.3 246.1,317.7 247.0,314.8 247.9,312.0 248.9,309.2 250.0,306.2 251.0,304.1 252.2,298.9 253.4,293.1 254.6,291.2 255.7,289.9 257.3,290.7 258.9,280.5 259.7,275.0 261.3,275.7 262.5,271.0 263.6,270.2 264.8,272.1 266.0,272.6 267.0,270.3 268.1,268.0 269.1,266.3 270.3,269.6 271.5,272.6 272.7,275.5 273.9,278.1 275.0,282.5 276.2,286.8 277.8,284.4 279.4,293.1 280.9,292.3 282.5,300.9M304.6,278.1 305.9,274.3 307.2,271.5 308.2,273.6 309.2,275.4 310.1,272.5 311.1,271.5 312.1,270.7 313.1,268.2 314.1,268.1 315.1,269.5 316.2,268.3 317.2,267.3 318.3,266.2 319.3,263.1 320.3,259.7 321.3,256.9 322.3,254.4 323.2,252.1 324.2,249.2 325.5,243.1 326.9,241.3 327.9,238.1 328.9,235.2 330.2,232.7 331.5,230.6 332.6,228.7 333.7,228.4 334.8,226.0 336.1,217.5 337.4,216.8 338.1,221.4 339.4,250.0 340.3,256.7 341.3,264.6 342.2,272.1 343.5,273.5 344.9,277.6 345.9,285.5 346.8,293.2 347.7,282.5 348.6,273.9 349.5,278.5 350.4,286.2 351.4,296.0 352.3,292.7 353.2,286.8 354.1,290.2 355.1,292.8 356.0,296.0 357.4,303.4 358.7,310.7 359.6,302.4 360.6,295.3 361.5,288.6 362.9,298.0 364.2,307.0 365.1,299.5 366.1,294.8 367.0,288.6 367.9,282.9 368.8,279.4 369.7,280.0 370.7,279.8 371.6,281.2 373.4,288.6 374.4,282.2 375.3,273.9 376.2,283.6 377.1,292.3 378.1,284.5 379.0,276.3 380.0,270.2M409.4,208.9 410.4,225.2 411.5,212.6 412.5,218.9 413.6,226.3 415.2,221.0 416.7,225.2 418.0,224.7 419.4,225.3 420.4,227.5 421.4,229.9 422.4,234.2 423.4,239.8 424.7,243.7 425.3,255.7 426.0,244.4 427.3,244.1 428.6,243.7 429.9,240.6 431.2,236.5 432.6,243.7 433.6,241.3 434.5,239.1 435.5,240.4 436.5,242.4 437.8,243.8 439.1,244.4 440.2,245.0 441.3,246.6 442.4,247.0 443.4,246.1 444.4,245.7 445.4,244.3 446.4,240.9 447.3,238.1 448.3,236.5 449.4,233.8 450.5,230.8 451.6,228.6 452.2,222.7 453.5,232.6 454.5,235.8 455.5,240.4 456.8,250.0 458.1,278.2 459.2,268.6 460.3,259.8 461.4,250.0 461.8,221.0 462.7,240.0 463.7,249.6 464.7,262.0 465.5,322.2 466.5,290.0 468.0,261.8 469.3,269.7 470.2,276.1 471.2,282.8 471.4,302.5 472.4,303.3 473.4,304.4 474.7,321.5 475.7,324.9 476.7,328.7 478.0,331.1 479.3,332.7 480.6,292.6 481.2,321.5 482.2,322.0 483.2,324.2 484.2,329.1 485.2,333.3 486.2,331.1 487.2,329.4 488.1,320.5 489.1,311.7 490.4,332.0 491.3,326.5 492.2,321.2 493.1,316.2 494.4,312.3 495.4,317.2 496.3,322.8 497.3,319.1 498.3,315.0 499.6,299.2 500.6,316.8 501.6,332.0 502.6,321.4 503.6,309.7 504.7,306.9 505.7,303.4 506.8,299.9 507.9,302.7 508.9,306.2 509.9,298.1 511.0,289.4 512.0,309.5 513.1,327.2 514.2,267.8 515.4,210.1 516.0,300.0 517.2,222.0 519.0,300.0 520.5,302.0 521.6,222.0 522.6,300.0 523.5,222.0 524.0,287.0" stroke="#e37050" stroke-width="0.9" fill="none" stroke-linejoin="round" stroke-opacity="1"/>
<path d="M115.70,307.60C117.45,306.03 123.82,300.30 126.20,298.20C128.58,296.10 127.40,296.98 130.00,295.00C132.60,293.02 137.37,289.33 141.80,286.30C146.23,283.27 151.68,279.55 156.60,276.80C161.52,274.05 167.07,271.77 171.30,269.80C175.53,267.83 178.88,266.47 182.00,265.00C185.12,263.53 188.67,261.67 190.00,261.00M115.70,315.80C117.45,314.30 123.03,309.55 126.20,306.80C129.37,304.05 132.10,301.63 134.70,299.30C137.30,296.97 138.15,295.85 141.80,292.80C145.45,289.75 151.68,284.35 156.60,281.00C161.52,277.65 167.07,275.17 171.30,272.70C175.53,270.23 178.82,268.15 182.00,266.20C185.18,264.25 189.00,261.87 190.40,261.00M190.4,261.0 191.6,260.0 192.8,258.9 194.0,255.3 195.7,257.7 196.6,258.1 197.6,257.2 198.5,257.8 199.4,257.3 200.3,257.2 201.3,257.9 202.2,257.1 203.2,256.9 204.2,256.5 205.1,256.5 206.1,256.4 207.1,255.6 208.1,255.3 209.0,255.0 209.9,253.8 210.8,253.5 211.7,252.9 212.6,251.9 213.5,251.9 214.4,251.0 215.3,250.7 216.3,251.0 217.2,250.8 218.1,250.5 219.0,250.4 220.0,249.6 220.9,249.8 221.8,249.6 222.8,249.5 223.8,249.5 224.8,248.7 225.7,248.6 226.7,247.8 227.7,248.4 228.7,248.0 229.7,247.1 230.6,247.1 231.6,247.9 232.6,246.4 233.6,247.0 234.8,246.5 236.0,245.4 237.2,248.4 238.1,248.2 239.0,247.8 240.7,251.9 241.6,253.0 242.5,254.3 243.4,252.1 244.3,249.6 245.5,247.8 246.6,246.0 247.8,243.6 248.8,242.0 249.7,240.3 250.7,238.8 251.6,237.1 252.6,236.0 253.5,235.3 254.5,234.2 255.4,234.3 256.4,232.4 257.3,232.4 258.2,231.4 259.1,230.9 260.0,229.9 260.9,230.9 261.8,228.7 262.7,228.9 263.6,228.5 264.5,228.0 265.4,228.6 266.4,226.9 267.3,227.9 268.2,227.2 269.2,226.6 270.1,226.5 271.1,226.0 272.1,225.9 273.4,227.3 274.7,228.2 276.0,228.0 277.4,228.8 278.7,232.1 280.0,231.1 281.3,232.8 282.6,228.2 283.0,227.2M304.1,219.4 305.7,222.6 306.8,224.0 307.8,225.5 308.9,226.8 309.9,230.5 311.0,231.8 312.0,235.7 313.0,239.2 314.1,241.9 315.1,244.4 316.0,243.8 316.9,243.7 317.9,243.0 318.8,243.5 319.7,242.4 320.7,241.7 321.7,240.8 322.7,240.1 323.6,239.4 324.6,238.6 325.6,237.6 326.6,238.1 327.6,236.5 328.6,234.6 329.6,232.8 330.5,233.0 331.5,231.9 332.8,229.9 334.1,228.0 335.2,226.6 336.3,224.9 337.4,223.4 338.5,224.4 339.6,225.7 340.7,226.7 341.8,227.7 342.8,227.8 343.9,228.6 344.8,231.8 345.7,236.0 346.6,238.5 347.9,233.8 349.2,228.6 350.2,230.5 351.2,233.2 352.1,231.8 353.1,228.6 354.2,229.8 355.3,230.1 356.4,231.2 357.4,232.4 358.4,234.5 359.7,230.7 361.0,226.7 362.0,229.3 363.0,232.6 364.3,228.2 365.6,224.7 366.7,223.9 367.8,224.0 368.9,224.0 370.2,225.1 371.5,225.3 372.6,226.9 373.7,228.9 375.3,222.1 376.8,228.9 378.4,221.0 380.0,217.3M409.9,229.4 411.0,240.0 411.9,243.4 412.9,247.9 414.0,251.2 415.1,254.1 416.2,257.1 417.3,258.7 418.3,260.2 419.4,261.0 420.5,261.7 421.5,262.5 422.6,263.3 423.6,263.7 424.7,264.9 425.7,265.3 426.6,265.8 427.6,265.5 428.6,265.6 429.7,265.0 430.7,264.5 431.8,263.7 432.8,263.2 433.9,263.0 434.8,261.9 435.7,260.8 436.7,260.1 437.6,258.7 438.5,258.4 439.6,256.3 440.6,254.0 441.7,251.8 443.0,248.0 444.4,245.2 445.7,241.7 447.0,240.0 448.0,237.8 448.9,236.0 449.9,233.1 450.9,231.2 451.6,228.0 452.7,227.4 453.7,226.9 454.8,226.7 455.8,228.3 456.8,229.3 458.1,231.9 459.1,228.9 460.1,226.7 461.4,220.1 462.4,221.1 463.4,221.4 464.7,231.2 466.0,244.4 467.0,235.1 468.0,226.0 469.3,229.0 470.6,231.2 471.9,234.5 473.2,237.8 474.5,242.3 475.8,247.0 477.1,246.4 478.5,247.0 479.4,244.4 480.4,242.4 481.3,243.8 482.2,245.7 483.1,247.0 484.4,249.0 485.7,250.9 487.0,256.6 488.0,255.0 489.0,253.9 490.0,257.7 491.0,261.2 492.4,257.6 493.7,253.3 494.6,254.2 495.5,255.0 496.5,255.9 497.4,257.0 498.3,255.8 499.2,254.1 500.1,252.4 501.0,254.8 502.0,258.1 502.9,260.7 503.8,259.6 504.7,258.5 505.6,257.9 506.5,257.5 507.5,256.4 508.4,255.1 509.3,254.2 510.2,253.9 511.1,253.3 512.0,258.1 513.0,262.5 513.9,260.6 514.8,259.1 515.8,257.8 516.7,255.1 517.6,254.2 519.0,256.6 520.3,258.8 522.0,255.0" stroke="#c9f1e3" stroke-width="1.9" fill="none" stroke-linejoin="round" stroke-opacity="1"/>
<path d="M115.70,307.60C117.45,306.03 123.82,300.30 126.20,298.20C128.58,296.10 127.40,296.98 130.00,295.00C132.60,293.02 137.37,289.33 141.80,286.30C146.23,283.27 151.68,279.55 156.60,276.80C161.52,274.05 167.07,271.77 171.30,269.80C175.53,267.83 178.88,266.47 182.00,265.00C185.12,263.53 188.67,261.67 190.00,261.00M115.70,315.80C117.45,314.30 123.03,309.55 126.20,306.80C129.37,304.05 132.10,301.63 134.70,299.30C137.30,296.97 138.15,295.85 141.80,292.80C145.45,289.75 151.68,284.35 156.60,281.00C161.52,277.65 167.07,275.17 171.30,272.70C175.53,270.23 178.82,268.15 182.00,266.20C185.18,264.25 189.00,261.87 190.40,261.00M190.4,261.0 191.6,260.0 192.8,258.9 194.0,255.3 195.7,257.7 196.6,258.1 197.6,257.2 198.5,257.8 199.4,257.3 200.3,257.2 201.3,257.9 202.2,257.1 203.2,256.9 204.2,256.5 205.1,256.5 206.1,256.4 207.1,255.6 208.1,255.3 209.0,255.0 209.9,253.8 210.8,253.5 211.7,252.9 212.6,251.9 213.5,251.9 214.4,251.0 215.3,250.7 216.3,251.0 217.2,250.8 218.1,250.5 219.0,250.4 220.0,249.6 220.9,249.8 221.8,249.6 222.8,249.5 223.8,249.5 224.8,248.7 225.7,248.6 226.7,247.8 227.7,248.4 228.7,248.0 229.7,247.1 230.6,247.1 231.6,247.9 232.6,246.4 233.6,247.0 234.8,246.5 236.0,245.4 237.2,248.4 238.1,248.2 239.0,247.8 240.7,251.9 241.6,253.0 242.5,254.3 243.4,252.1 244.3,249.6 245.5,247.8 246.6,246.0 247.8,243.6 248.8,242.0 249.7,240.3 250.7,238.8 251.6,237.1 252.6,236.0 253.5,235.3 254.5,234.2 255.4,234.3 256.4,232.4 257.3,232.4 258.2,231.4 259.1,230.9 260.0,229.9 260.9,230.9 261.8,228.7 262.7,228.9 263.6,228.5 264.5,228.0 265.4,228.6 266.4,226.9 267.3,227.9 268.2,227.2 269.2,226.6 270.1,226.5 271.1,226.0 272.1,225.9 273.4,227.3 274.7,228.2 276.0,228.0 277.4,228.8 278.7,232.1 280.0,231.1 281.3,232.8 282.6,228.2 283.0,227.2M304.1,219.4 305.7,222.6 306.8,224.0 307.8,225.5 308.9,226.8 309.9,230.5 311.0,231.8 312.0,235.7 313.0,239.2 314.1,241.9 315.1,244.4 316.0,243.8 316.9,243.7 317.9,243.0 318.8,243.5 319.7,242.4 320.7,241.7 321.7,240.8 322.7,240.1 323.6,239.4 324.6,238.6 325.6,237.6 326.6,238.1 327.6,236.5 328.6,234.6 329.6,232.8 330.5,233.0 331.5,231.9 332.8,229.9 334.1,228.0 335.2,226.6 336.3,224.9 337.4,223.4 338.5,224.4 339.6,225.7 340.7,226.7 341.8,227.7 342.8,227.8 343.9,228.6 344.8,231.8 345.7,236.0 346.6,238.5 347.9,233.8 349.2,228.6 350.2,230.5 351.2,233.2 352.1,231.8 353.1,228.6 354.2,229.8 355.3,230.1 356.4,231.2 357.4,232.4 358.4,234.5 359.7,230.7 361.0,226.7 362.0,229.3 363.0,232.6 364.3,228.2 365.6,224.7 366.7,223.9 367.8,224.0 368.9,224.0 370.2,225.1 371.5,225.3 372.6,226.9 373.7,228.9 375.3,222.1 376.8,228.9 378.4,221.0 380.0,217.3M409.9,229.4 411.0,240.0 411.9,243.4 412.9,247.9 414.0,251.2 415.1,254.1 416.2,257.1 417.3,258.7 418.3,260.2 419.4,261.0 420.5,261.7 421.5,262.5 422.6,263.3 423.6,263.7 424.7,264.9 425.7,265.3 426.6,265.8 427.6,265.5 428.6,265.6 429.7,265.0 430.7,264.5 431.8,263.7 432.8,263.2 433.9,263.0 434.8,261.9 435.7,260.8 436.7,260.1 437.6,258.7 438.5,258.4 439.6,256.3 440.6,254.0 441.7,251.8 443.0,248.0 444.4,245.2 445.7,241.7 447.0,240.0 448.0,237.8 448.9,236.0 449.9,233.1 450.9,231.2 451.6,228.0 452.7,227.4 453.7,226.9 454.8,226.7 455.8,228.3 456.8,229.3 458.1,231.9 459.1,228.9 460.1,226.7 461.4,220.1 462.4,221.1 463.4,221.4 464.7,231.2 466.0,244.4 467.0,235.1 468.0,226.0 469.3,229.0 470.6,231.2 471.9,234.5 473.2,237.8 474.5,242.3 475.8,247.0 477.1,246.4 478.5,247.0 479.4,244.4 480.4,242.4 481.3,243.8 482.2,245.7 483.1,247.0 484.4,249.0 485.7,250.9 487.0,256.6 488.0,255.0 489.0,253.9 490.0,257.7 491.0,261.2 492.4,257.6 493.7,253.3 494.6,254.2 495.5,255.0 496.5,255.9 497.4,257.0 498.3,255.8 499.2,254.1 500.1,252.4 501.0,254.8 502.0,258.1 502.9,260.7 503.8,259.6 504.7,258.5 505.6,257.9 506.5,257.5 507.5,256.4 508.4,255.1 509.3,254.2 510.2,253.9 511.1,253.3 512.0,258.1 513.0,262.5 513.9,260.6 514.8,259.1 515.8,257.8 516.7,255.1 517.6,254.2 519.0,256.6 520.3,258.8 522.0,255.0" stroke="#2b9e7a" stroke-width="0.9" fill="none" stroke-linejoin="round" stroke-opacity="1"/>
</svg></body></html>
